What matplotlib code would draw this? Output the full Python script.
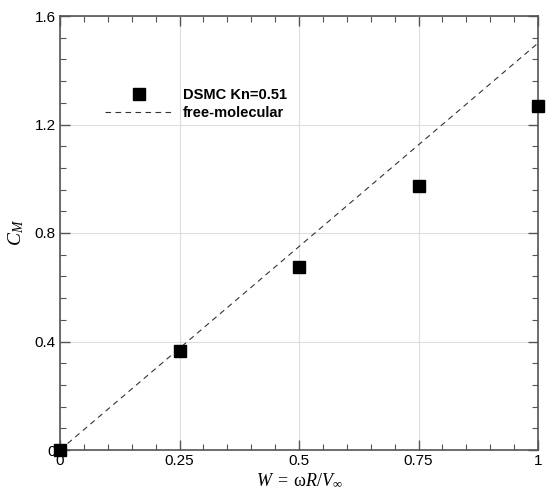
import numpy as np
import matplotlib
matplotlib.use('agg')
import matplotlib.pyplot as plt
from matplotlib.ticker import MultipleLocator

plt.rcParams['font.family'] = ['Liberation Sans', 'DejaVu Sans']
plt.rcParams['mathtext.fontset'] = 'custom'
plt.rcParams['mathtext.rm'] = 'Liberation Serif'
plt.rcParams['mathtext.it'] = 'Liberation Serif:italic'

# data
W_dsmc = [0.0, 0.25, 0.5, 0.75, 1.0]
CM_dsmc = [0.0, 0.365, 0.675, 0.973, 1.268]
W_fm = [0.0, 1.0]
CM_fm = [0.0, 1.5]

fig = plt.figure(figsize=(5.5, 4.93), dpi=100)
ax = fig.add_axes([60 / 550, 1 - 450 / 493, 478 / 550, 434 / 493])

ax.plot(W_dsmc, CM_dsmc, 's', color='black', markersize=8, clip_on=False,
        zorder=5, label='DSMC Kn=0.51')
ax.plot(W_fm, CM_fm, '--', color='#333333', linewidth=0.8, dashes=(5, 4),
        label='free-molecular')

ax.set_xlim(0, 1)
ax.set_ylim(0, 1.6)
ax.set_xticks([0, 0.25, 0.5, 0.75, 1])
ax.set_xticklabels(['0', '0.25', '0.5', '0.75', '1'])
ax.set_yticks([0, 0.4, 0.8, 1.2, 1.6])
ax.set_yticklabels(['0', '0.4', '0.8', '1.2', '1.6'])
ax.xaxis.set_minor_locator(MultipleLocator(0.05))
ax.yaxis.set_minor_locator(MultipleLocator(0.08))
ax.tick_params(which='both', direction='in', top=True, right=True,
               color='#555555', labelsize=11, pad=3)
ax.tick_params(which='major', length=7, width=1)
ax.tick_params(which='minor', length=4, width=0.8)
ax.grid(True, which='major', color='#dddddd', linewidth=0.8)
ax.set_axisbelow(True)
for s in ax.spines.values():
    s.set_color('#555555')
    s.set_linewidth(1.2)

ax.set_xlabel(r'$W\;=\;\mathrm{\omega}R/V_{\infty}$', fontsize=13, labelpad=3)
ax.set_ylabel(r'$C_{M}$', fontsize=14, labelpad=6)

leg = ax.legend(loc='upper left', bbox_to_anchor=(0.07, 0.86), frameon=False,
                handlelength=4.6, handletextpad=0.75, labelspacing=0.25,
                borderpad=0.3, prop={'weight': 'bold', 'size': 10.5})

fig.savefig('out.png', dpi=100)
